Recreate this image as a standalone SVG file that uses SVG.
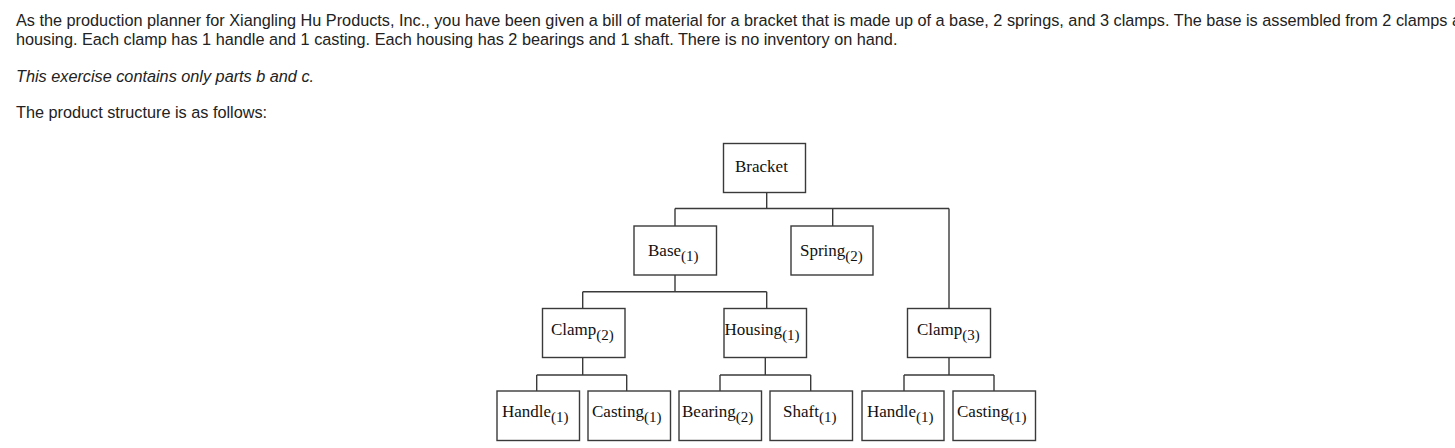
<svg xmlns="http://www.w3.org/2000/svg" width="1455" height="448" viewBox="0 0 1455 448">
<style>
.p{font-family:"Liberation Sans",Arial,sans-serif;font-size:16.25px;fill:#222}
.i{font-style:italic}
.box{fill:#fff;stroke:#3a3a3a;stroke-width:1.4}
.lbl{font-family:"Liberation Serif","Times New Roman",serif;font-size:17px;fill:#111}
.sub{font-size:15px}
.con{fill:none;stroke:#3a3a3a;stroke-width:1.4}
</style>
<rect width="1455" height="448" fill="#fff"/>
<text class="p" x="16" y="26">As the production planner for Xiangling Hu Products, Inc., you have been given a bill of material for a bracket that is made up of a base, 2 springs, and 3 clamps. The base is assembled from 2 clamps a</text>
<text class="p" x="16" y="45">housing. Each clamp has 1 handle and 1 casting. Each housing has 2 bearings and 1 shaft. There is no inventory on hand.</text>
<text class="p i" x="16" y="82">This exercise contains only parts b and c.</text>
<text class="p" x="16" y="118">The product structure is as follows:</text>
<g id="connectors">
<path class="con" d="M766.7,193V208.5M675,208.5H949M675,208.5V226M832.7,208.5V226M949,208.5V308.5"/>
<path class="con" d="M675,275V291.7M582.7,291.7H766.7M582.7,291.7V308.5M766.7,291.7V308.5"/>
<path class="con" d="M582.7,357.5V375M536.7,375H626.7M536.7,375V391M626.7,375V391"/>
<path class="con" d="M765.3,357.5V375M720,375H810.7M720,375V391M810.7,375V391"/>
<path class="con" d="M949,357.5V375M904,375H994M904,375V391M994,375V391"/>
</g>
<g id="bracket"><rect class="box" x="723.5" y="143.5" width="82" height="49"/><text class="lbl" x="735" y="172">Bracket</text></g>
<g id="base"><rect class="box" x="634" y="226" width="82.5" height="49"/><text class="lbl" x="648" y="256">Base<tspan class="sub" dy="5">(1)</tspan></text></g>
<g id="spring"><rect class="box" x="791" y="226" width="82" height="49"/><text class="lbl" x="800" y="256">Spring<tspan class="sub" dy="5">(2)</tspan></text></g>
<g id="clamp2"><rect class="box" x="542.5" y="308.5" width="82.5" height="49"/><text class="lbl" x="551" y="335">Clamp<tspan class="sub" dy="5">(2)</tspan></text></g>
<g id="housing"><rect class="box" x="724" y="308.5" width="82.5" height="49"/><text class="lbl" x="724.5" y="335">Housing<tspan class="sub" dy="5">(1)</tspan></text></g>
<g id="clamp3"><rect class="box" x="907.5" y="308.5" width="83" height="49"/><text class="lbl" x="917" y="335">Clamp<tspan class="sub" dy="5">(3)</tspan></text></g>
<g id="handle1"><rect class="box" x="497" y="391" width="82.5" height="49.5"/><text class="lbl" x="502" y="417">Handle<tspan class="sub" dy="5">(1)</tspan></text></g>
<g id="casting1"><rect class="box" x="588" y="391" width="82.5" height="49.5"/><text class="lbl" x="592" y="417">Casting<tspan class="sub" dy="5">(1)</tspan></text></g>
<g id="bearing"><rect class="box" x="679" y="391" width="82.5" height="49.5"/><text class="lbl" x="682" y="417">Bearing<tspan class="sub" dy="5">(2)</tspan></text></g>
<g id="shaft"><rect class="box" x="770" y="391" width="82.5" height="49.5"/><text class="lbl" x="783" y="417">Shaft<tspan class="sub" dy="5">(1)</tspan></text></g>
<g id="handle2"><rect class="box" x="862" y="391" width="82" height="49.5"/><text class="lbl" x="867" y="417">Handle<tspan class="sub" dy="5">(1)</tspan></text></g>
<g id="casting2"><rect class="box" x="953" y="391" width="82.5" height="49.5"/><text class="lbl" x="957" y="417">Casting<tspan class="sub" dy="5">(1)</tspan></text></g>
</svg>
